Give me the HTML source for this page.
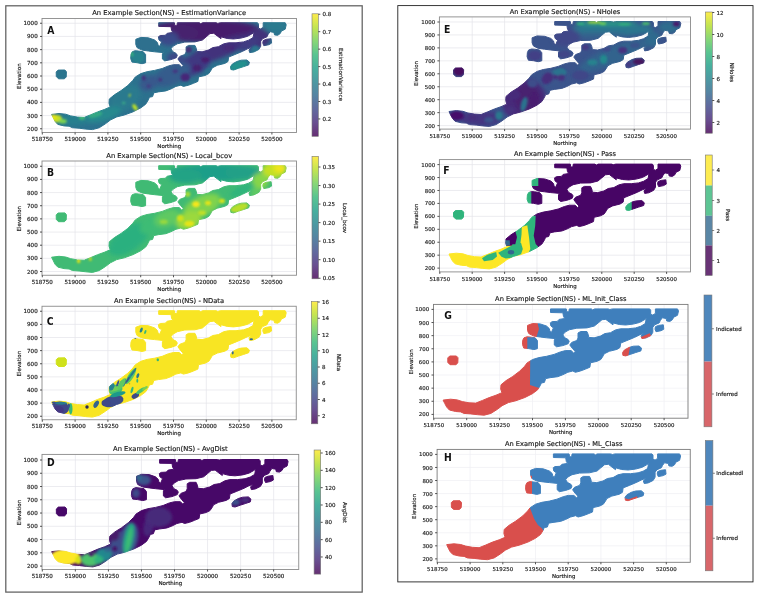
<!DOCTYPE html><html><head><meta charset="utf-8"><title>Example Section figure</title>
<style>html,body{margin:0;padding:0;background:#fff}svg{display:block;filter:blur(0.4px)}text{font-family:'DejaVu Sans','Liberation Sans',sans-serif;stroke:#262626;stroke-width:0.18px}</style></head><body>
<svg width="768" height="598" viewBox="0 0 768 598">
<rect width="768" height="598" fill="#fff"/>
<defs>
<linearGradient id="vir" x1="0" y1="1" x2="0" y2="0">
<stop offset="0.000" stop-color="#440154"/>
<stop offset="0.111" stop-color="#482878"/>
<stop offset="0.222" stop-color="#3e4989"/>
<stop offset="0.333" stop-color="#31688e"/>
<stop offset="0.444" stop-color="#26828e"/>
<stop offset="0.556" stop-color="#1f9e89"/>
<stop offset="0.667" stop-color="#35b779"/>
<stop offset="0.778" stop-color="#6ece58"/>
<stop offset="0.889" stop-color="#b5de2b"/>
<stop offset="1.000" stop-color="#fde725"/>
</linearGradient>
<filter id="bl4" x="-20%" y="-20%" width="140%" height="140%"><feGaussianBlur stdDeviation="0.40"/></filter>
<filter id="bl5" x="-20%" y="-20%" width="140%" height="140%"><feGaussianBlur stdDeviation="0.50"/></filter>
<filter id="bl6" x="-20%" y="-20%" width="140%" height="140%"><feGaussianBlur stdDeviation="0.60"/></filter>
<filter id="bl8" x="-20%" y="-20%" width="140%" height="140%"><feGaussianBlur stdDeviation="0.80"/></filter>
<filter id="bl9" x="-20%" y="-20%" width="140%" height="140%"><feGaussianBlur stdDeviation="0.90"/></filter>
<filter id="bl10" x="-20%" y="-20%" width="140%" height="140%"><feGaussianBlur stdDeviation="1.00"/></filter>
<filter id="bl12" x="-20%" y="-20%" width="140%" height="140%"><feGaussianBlur stdDeviation="1.20"/></filter>
<filter id="bl14" x="-20%" y="-20%" width="140%" height="140%"><feGaussianBlur stdDeviation="1.40"/></filter>
<filter id="bl15" x="-20%" y="-20%" width="140%" height="140%"><feGaussianBlur stdDeviation="1.50"/></filter>
<filter id="bl16" x="-20%" y="-20%" width="140%" height="140%"><feGaussianBlur stdDeviation="1.60"/></filter>
<filter id="bl18" x="-20%" y="-20%" width="140%" height="140%"><feGaussianBlur stdDeviation="1.80"/></filter>
<filter id="bl20" x="-20%" y="-20%" width="140%" height="140%"><feGaussianBlur stdDeviation="2.00"/></filter>
<filter id="bl22" x="-20%" y="-20%" width="140%" height="140%"><feGaussianBlur stdDeviation="2.20"/></filter>
</defs>
<rect x="5.8" y="5.8" width="356.4" height="586.3" fill="#fff" stroke="#606060" stroke-width="1.25"/>
<rect x="397.8" y="5.6" width="355.2" height="576.3" fill="#fff" stroke="#222" stroke-width="0.9"/>
<g>
<path d="M75.10 18.50V132.50M107.90 18.50V132.50M140.70 18.50V132.50M173.50 18.50V132.50M206.30 18.50V132.50M239.10 18.50V132.50M271.90 18.50V132.50M42.00 128.77H296.50M42.00 115.58H296.50M42.00 102.39H296.50M42.00 89.20H296.50M42.00 76.01H296.50M42.00 62.82H296.50M42.00 49.63H296.50M42.00 36.44H296.50M42.00 23.25H296.50" stroke="#e4e4ea" stroke-width="0.7" fill="none"/>
<mask id="clA" maskUnits="userSpaceOnUse" x="42.0" y="18.5" width="254.5" height="114.0">
<g fill="#fff" stroke="#fff" stroke-width="1.00" stroke-linejoin="round">
<path d="M51.6 114.4L59.0 113.5L65.7 114.2L70.7 115.9L77.4 117.1L84.2 117.4L90.9 114.7L97.6 111.9L104.3 109.5L110.2 107.0L109.0 103.2L109.3 99.0L114.4 94.8L121.1 90.6L127.8 85.5L132.8 80.4L135.3 77.0L140.8 73.6L147.1 71.7L154.6 70.4L162.2 68.5L168.5 65.9L173.5 64.7L179.2 64.7L181.7 67.0L183.3 65.7L180.4 62.4L177.9 59.0L179.8 56.4L184.8 54.5L186.1 52.0L186.1 46.9L188.6 45.4L194.9 45.4L196.2 48.2L196.8 51.4L202.1 51.8L208.4 50.1L212.8 47.6L218.4 46.7L223.5 43.9L228.5 42.8L236.0 42.8L243.6 41.9L248.6 40.2L253.1 37.6L260.7 41.2L260.7 46.3L258.8 49.5L253.8 52.0L249.7 52.6L249.0 50.1L251.2 47.6L247.5 48.8L242.4 51.4L234.9 54.5L228.6 57.1L228.0 61.5L224.8 63.4L217.3 65.3L212.2 67.9L211.3 69.8L208.8 73.6L205.0 75.5L198.5 76.9L197.9 81.4L193.5 83.3L188.5 85.2L183.4 86.4L180.9 85.2L175.9 86.4L170.8 89.0L165.8 90.9L158.3 91.9L153.8 92.8L152.6 96.6L149.4 97.2L148.4 99.8L145.7 104.2L140.6 108.0L133.1 111.8L124.3 115.0L116.7 116.9L110.4 120.0L105.4 123.8L99.3 127.7L92.5 129.6L85.8 129.1L79.1 128.2L72.4 127.7L69.1 126.2L64.0 125.9L57.8 124.4L55.1 121.5L53.3 117.9Z"/>
<path d="M158.7 22.7L174.4 22.7L174.9 25.7L176.9 25.7L177.4 22.7L199.4 22.7L200.7 23.8L202.6 22.7L216.2 22.7L217.8 23.4L220.3 22.7L257.5 22.7L258.5 24.1L258.5 28.2L260.7 28.9L263.2 27.3L263.2 22.7L285.2 22.7L286.2 24.8L285.2 29.2L281.4 31.1L280.2 33.6L277.7 35.3L274.5 34.9L273.9 32.4L270.1 31.7L268.2 34.3L267.0 36.8L262.6 38.7L260.7 41.2L257.5 43.1L253.1 37.8L254.0 32.5L251.7 34.0L247.3 36.4L241.0 38.1L233.5 39.0L227.2 38.5L220.9 36.8L221.0 38.7L217.6 36.2L213.8 33.3L210.0 33.6L206.2 36.8L202.5 40.0L194.9 41.9L184.8 42.1L177.3 43.8L172.9 46.3L171.0 48.8L172.9 51.8L176.0 53.3L177.3 55.2L176.3 57.7L171.0 59.6L164.7 60.9L162.4 59.0L162.4 53.9L163.4 52.6L154.6 51.8L148.3 51.0L142.1 50.1L137.0 47.6L135.8 44.4L135.8 39.3L140.8 37.4L148.3 37.8L154.6 40.0L157.4 42.5L158.2 45.4L159.7 46.3L161.6 41.9L159.0 40.0L158.4 36.8L160.3 35.5L165.3 35.3L167.2 33.3L172.9 32.4L171.6 30.5L171.0 26.7L158.7 26.4Z"/>
<path d="M263.2 40.6L266.3 39.3L271.1 38.7L271.6 43.1L268.9 44.7L263.8 45.7L262.8 43.1Z"/>
<path d="M230.5 66.6L232.4 64.0L236.8 61.5L241.2 60.2L246.8 60.0L249.4 62.1L248.7 64.9L243.7 66.6L238.7 68.2L233.6 70.0L230.9 69.5Z"/>
<path d="M132.2 51.8L135.1 50.7L138.3 51.0L143.3 51.8L145.6 54.5L145.6 62.8L142.1 63.7L137.0 62.7L132.0 62.1L130.7 58.6L131.0 54.3Z"/>
<path d="M56.2 72.0L58.1 70.1L64.9 70.0L66.4 71.8L66.2 77.0L64.4 78.8L58.5 78.8L56.3 76.5Z"/>
</g></mask>
<g mask="url(#clA)">
<rect x="42.0" y="18.5" width="254.5" height="114.0" fill="#2c718e"/>
<g filter="url(#bl22)">
<ellipse cx="205.3" cy="30.7" rx="56.7" ry="11.3" fill="#461c6b"/>
<ellipse cx="182.0" cy="33.0" rx="16.7" ry="8.3" fill="#46206e"/>
<ellipse cx="235.3" cy="31.3" rx="23.3" ry="8.3" fill="#471c6c"/>
<ellipse cx="168.7" cy="38.7" rx="10.0" ry="7.3" fill="#3b4a89"/>
<ellipse cx="258.7" cy="38.0" rx="11.7" ry="10.0" fill="#423079"/>
<ellipse cx="275.3" cy="26.3" rx="11.7" ry="6.0" fill="#2a7a8f"/>
<ellipse cx="218.7" cy="49.7" rx="36.7" ry="8.7" fill="#42307c" transform="rotate(-22 218.7 49.7)"/>
<ellipse cx="193.7" cy="64.7" rx="18.3" ry="10.0" fill="#413781" transform="rotate(-25 193.7 64.7)"/>
<ellipse cx="248.7" cy="44.0" rx="11.7" ry="6.0" fill="#3f3a82" transform="rotate(-25 248.7 44.0)"/>
<ellipse cx="175.3" cy="58.0" rx="8.3" ry="6.0" fill="#3e4788"/>
<ellipse cx="172.0" cy="74.7" rx="20.0" ry="10.0" fill="#365c8c" transform="rotate(-25 172.0 74.7)"/>
<ellipse cx="148.7" cy="83.0" rx="10.0" ry="7.3" fill="#38588c" transform="rotate(-30 148.7 83.0)"/>
<ellipse cx="125.3" cy="98.0" rx="16.7" ry="11.7" fill="#2a7a8e" transform="rotate(-35 125.3 98.0)"/>
<ellipse cx="102.0" cy="114.7" rx="20.0" ry="6.7" fill="#25898e" transform="rotate(-15 102.0 114.7)"/>
<ellipse cx="72.0" cy="119.7" rx="16.7" ry="6.0" fill="#277f8e"/>
</g>
<g filter="url(#bl9)">
<ellipse cx="57.0" cy="118.7" rx="5.0" ry="3.7" fill="#c8e020"/>
<ellipse cx="53.7" cy="116.7" rx="3.0" ry="2.3" fill="#e2e418"/>
<ellipse cx="62.7" cy="121.3" rx="4.0" ry="2.3" fill="#7ad151"/>
<ellipse cx="135.0" cy="107.3" rx="2.0" ry="3.7" fill="#b8de29" transform="rotate(-35 135.0 107.3)"/>
<ellipse cx="95.3" cy="114.7" rx="7.3" ry="2.7" fill="#35a983" transform="rotate(-15 95.3 114.7)"/>
<ellipse cx="82.0" cy="118.0" rx="3.3" ry="1.7" fill="#3fbc73"/>
<ellipse cx="129.7" cy="95.3" rx="0.8" ry="1.7" fill="#c0df25" transform="rotate(20 129.7 95.3)"/>
<ellipse cx="123.7" cy="103.0" rx="2.0" ry="1.3" fill="#3aa786"/>
<ellipse cx="238.7" cy="65.3" rx="9.3" ry="4.0" fill="#21908d" transform="rotate(-18 238.7 65.3)"/>
<ellipse cx="138.0" cy="57.3" rx="6.7" ry="6.0" fill="#26828e"/>
<ellipse cx="132.0" cy="54.0" rx="1.3" ry="2.7" fill="#35b779"/>
<ellipse cx="147.0" cy="44.0" rx="11.7" ry="6.7" fill="#2d6f8e"/>
<ellipse cx="61.3" cy="74.7" rx="6.0" ry="5.0" fill="#2b748e"/>
<ellipse cx="143.7" cy="78.0" rx="2.0" ry="2.7" fill="#452f7c"/>
<ellipse cx="148.7" cy="86.3" rx="1.7" ry="2.0" fill="#443a83"/>
<ellipse cx="160.3" cy="79.7" rx="2.0" ry="1.7" fill="#46307e"/>
<ellipse cx="185.3" cy="77.3" rx="4.7" ry="4.0" fill="#472878"/>
<ellipse cx="197.0" cy="68.0" rx="4.0" ry="3.3" fill="#46226f"/>
<ellipse cx="205.3" cy="59.7" rx="4.0" ry="2.7" fill="#471f6d"/>
<ellipse cx="175.3" cy="71.3" rx="2.7" ry="2.0" fill="#443882"/>
<ellipse cx="188.7" cy="49.7" rx="3.3" ry="3.3" fill="#453179"/>
<ellipse cx="228.7" cy="48.0" rx="4.7" ry="2.7" fill="#462a77"/>
<ellipse cx="208.7" cy="71.3" rx="3.3" ry="2.7" fill="#2c6f8e"/>
<ellipse cx="255.3" cy="49.7" rx="4.0" ry="4.0" fill="#2b748e"/>
</g>
</g>
<rect x="42.00" y="18.50" width="254.50" height="114.00" fill="none" stroke="#8a8a8a" stroke-width="0.9"/>
<path d="M42.30 132.50v2M75.10 132.50v2M107.90 132.50v2M140.70 132.50v2M173.50 132.50v2M206.30 132.50v2M239.10 132.50v2M271.90 132.50v2M42.00 128.77h-2M42.00 115.58h-2M42.00 102.39h-2M42.00 89.20h-2M42.00 76.01h-2M42.00 62.82h-2M42.00 49.63h-2M42.00 36.44h-2M42.00 23.25h-2" stroke="#333" stroke-width="0.85" fill="none"/>
<g font-size="5.55" fill="#262626">
<text x="42.30" y="140.80" text-anchor="middle">518750</text>
<text x="75.10" y="140.80" text-anchor="middle">519000</text>
<text x="107.90" y="140.80" text-anchor="middle">519250</text>
<text x="140.70" y="140.80" text-anchor="middle">519500</text>
<text x="173.50" y="140.80" text-anchor="middle">519750</text>
<text x="206.30" y="140.80" text-anchor="middle">520000</text>
<text x="239.10" y="140.80" text-anchor="middle">520250</text>
<text x="271.90" y="140.80" text-anchor="middle">520500</text>
<text x="37.70" y="130.82" text-anchor="end">200</text>
<text x="37.70" y="117.63" text-anchor="end">300</text>
<text x="37.70" y="104.44" text-anchor="end">400</text>
<text x="37.70" y="91.25" text-anchor="end">500</text>
<text x="37.70" y="78.06" text-anchor="end">600</text>
<text x="37.70" y="64.87" text-anchor="end">700</text>
<text x="37.70" y="51.68" text-anchor="end">800</text>
<text x="37.70" y="38.49" text-anchor="end">900</text>
<text x="37.70" y="25.30" text-anchor="end">1000</text>
</g>
<text x="169.25" y="147.90" text-anchor="middle" font-size="5.50" fill="#262626">Northing</text>
<text transform="translate(21.00 76.10) rotate(-90)" text-anchor="middle" font-size="5.50" fill="#262626">Elevation</text>
<text x="169.25" y="15.10" text-anchor="middle" font-size="6.75" fill="#222">An Example Section(NS) - EstimationVariance</text>
<text x="47.20" y="33.50" font-weight="bold" font-size="10.3" fill="#111" style="font-family:'DejaVu Sans Condensed','DejaVu Sans',sans-serif;font-stretch:condensed;stroke:none">A</text>
</g>
<g>
<path d="M75.10 161.00V275.25M107.90 161.00V275.25M140.70 161.00V275.25M173.50 161.00V275.25M206.30 161.00V275.25M239.10 161.00V275.25M271.90 161.00V275.25M42.00 271.53H296.50M42.00 258.37H296.50M42.00 245.21H296.50M42.00 232.05H296.50M42.00 218.89H296.50M42.00 205.73H296.50M42.00 192.57H296.50M42.00 179.41H296.50M42.00 166.25H296.50" stroke="#e4e4ea" stroke-width="0.7" fill="none"/>
<mask id="clB" maskUnits="userSpaceOnUse" x="42.0" y="161.0" width="254.5" height="114.2">
<g fill="#fff" stroke="#fff" stroke-width="1.00" stroke-linejoin="round">
<path d="M51.6 257.2L59.0 256.3L65.7 257.0L70.7 258.7L77.4 259.9L84.2 260.2L90.9 257.5L97.6 254.7L104.3 252.3L110.2 249.8L109.0 246.1L109.3 241.8L114.4 237.6L121.1 233.4L127.8 228.4L132.8 223.3L135.3 219.9L140.8 216.4L147.1 214.5L154.6 213.3L162.2 211.4L168.5 208.9L173.5 207.6L179.2 207.6L181.7 209.9L183.3 208.6L180.4 205.3L177.9 201.9L179.8 199.4L184.8 197.5L186.1 194.9L186.1 189.9L188.6 188.4L194.9 188.4L196.2 191.2L196.8 194.3L202.1 194.7L208.4 193.0L212.8 190.5L218.4 189.6L223.5 186.9L228.5 185.7L236.0 185.7L243.6 184.8L248.6 183.2L253.1 180.5L260.7 184.2L260.7 189.3L258.8 192.4L253.8 194.9L249.7 195.6L249.0 193.0L251.2 190.5L247.5 191.8L242.4 194.3L234.9 197.5L228.6 200.0L228.0 204.4L224.8 206.3L217.3 208.2L212.2 210.7L211.3 212.6L208.8 216.4L205.0 218.3L198.5 219.8L197.9 224.2L193.5 226.1L188.5 228.0L183.4 229.3L180.9 228.0L175.9 229.3L170.8 231.8L165.8 233.7L158.3 234.7L153.8 235.6L152.6 239.4L149.4 240.1L148.4 242.6L145.7 247.0L140.6 250.8L133.1 254.6L124.3 257.8L116.7 259.6L110.4 262.8L105.4 266.6L99.3 270.5L92.5 272.4L85.8 271.8L79.1 271.0L72.4 270.5L69.1 269.0L64.0 268.6L57.8 267.1L55.1 264.3L53.3 260.7Z"/>
<path d="M158.7 165.7L174.4 165.7L174.9 168.6L176.9 168.6L177.4 165.7L199.4 165.7L200.7 166.8L202.6 165.7L216.2 165.7L217.8 166.4L220.3 165.7L257.5 165.7L258.5 167.1L258.5 171.2L260.7 171.9L263.2 170.3L263.2 165.7L285.2 165.7L286.2 167.8L285.2 172.2L281.4 174.1L280.2 176.6L277.7 178.3L274.5 177.9L273.9 175.3L270.1 174.7L268.2 177.2L267.0 179.8L262.6 181.7L260.7 184.2L257.5 186.1L253.1 180.8L254.0 175.5L251.7 177.0L247.3 179.4L241.0 181.0L233.5 181.9L227.2 181.4L220.9 179.8L221.0 181.7L217.6 179.1L213.8 176.2L210.0 176.6L206.2 179.8L202.5 182.9L194.9 184.8L184.8 185.1L177.3 186.7L172.9 189.3L171.0 191.8L172.9 194.7L176.0 196.2L177.3 198.1L176.3 200.6L171.0 202.5L164.7 203.8L162.4 201.9L162.4 196.8L163.4 195.6L154.6 194.7L148.3 193.9L142.1 193.0L137.0 190.5L135.8 187.4L135.8 182.3L140.8 180.4L148.3 180.8L154.6 182.9L157.4 185.5L158.2 188.4L159.7 189.3L161.6 184.8L159.0 182.9L158.4 179.8L160.3 178.5L165.3 178.3L167.2 176.2L172.9 175.3L171.6 173.5L171.0 169.7L158.7 169.4Z"/>
<path d="M263.2 183.6L266.3 182.3L271.1 181.7L271.6 186.1L268.9 187.6L263.8 188.6L262.8 186.1Z"/>
<path d="M230.5 209.5L232.4 207.0L236.8 204.4L241.2 203.2L246.8 202.9L249.4 205.1L248.7 207.8L243.7 209.5L238.7 211.1L233.6 212.9L230.9 212.4Z"/>
<path d="M132.2 194.7L135.1 193.7L138.3 193.9L143.3 194.7L145.6 197.5L145.6 205.7L142.1 206.6L137.0 205.6L132.0 205.1L130.7 201.5L131.0 197.2Z"/>
<path d="M56.2 214.9L58.1 213.0L64.9 212.9L66.4 214.7L66.2 219.9L64.4 221.7L58.5 221.7L56.3 219.4Z"/>
</g></mask>
<g mask="url(#clB)">
<rect x="42.0" y="161.0" width="254.5" height="114.2" fill="#40ba74"/>
<g filter="url(#bl22)">
<ellipse cx="215.3" cy="172.7" rx="46.7" ry="8.7" fill="#1f9e89"/>
<ellipse cx="185.3" cy="176.0" rx="16.7" ry="7.3" fill="#22a385"/>
<ellipse cx="242.0" cy="172.7" rx="16.7" ry="7.3" fill="#21a087"/>
<ellipse cx="273.7" cy="170.3" rx="12.0" ry="8.3" fill="#c5e021"/>
<ellipse cx="280.3" cy="167.7" rx="6.7" ry="4.7" fill="#f1e51d"/>
<ellipse cx="260.3" cy="181.0" rx="8.3" ry="8.3" fill="#86d549"/>
<ellipse cx="242.0" cy="190.3" rx="13.3" ry="4.7" fill="#2fb47c" transform="rotate(-25 242.0 190.3)"/>
<ellipse cx="202.0" cy="206.0" rx="20.0" ry="10.0" fill="#7fd34e" transform="rotate(-25 202.0 206.0)"/>
<ellipse cx="188.7" cy="220.3" rx="13.3" ry="8.3" fill="#9bd93c" transform="rotate(-20 188.7 220.3)"/>
<ellipse cx="128.7" cy="239.3" rx="23.3" ry="11.7" fill="#2ab07f" transform="rotate(-35 128.7 239.3)"/>
<ellipse cx="152.0" cy="224.3" rx="13.3" ry="8.3" fill="#3dbc74" transform="rotate(-30 152.0 224.3)"/>
<ellipse cx="167.0" cy="218.3" rx="13.3" ry="8.0" fill="#5ec962" transform="rotate(-20 167.0 218.3)"/>
<ellipse cx="255.3" cy="192.7" rx="5.0" ry="5.0" fill="#5ec962"/>
</g>
<g filter="url(#bl10)">
<ellipse cx="196.0" cy="204.3" rx="3.7" ry="3.0" fill="#f4e61e"/>
<ellipse cx="208.0" cy="203.0" rx="3.0" ry="2.3" fill="#e2e418"/>
<ellipse cx="222.0" cy="201.0" rx="3.0" ry="2.3" fill="#d2e21b"/>
<ellipse cx="189.3" cy="223.7" rx="5.0" ry="3.0" fill="#e5e419"/>
<ellipse cx="180.3" cy="218.3" rx="3.3" ry="3.3" fill="#cde11d"/>
<ellipse cx="163.7" cy="221.7" rx="4.0" ry="2.3" fill="#95d840"/>
<ellipse cx="239.3" cy="207.7" rx="9.3" ry="4.0" fill="#b8de29" transform="rotate(-18 239.3 207.7)"/>
<ellipse cx="78.7" cy="261.0" rx="1.7" ry="2.3" fill="#e5e419"/>
<ellipse cx="90.3" cy="259.0" rx="1.3" ry="2.0" fill="#d8e219"/>
<ellipse cx="202.0" cy="212.7" rx="4.0" ry="2.3" fill="#c0df25"/>
<ellipse cx="187.7" cy="194.3" rx="2.7" ry="2.7" fill="#a0da39"/>
</g>
</g>
<rect x="42.00" y="161.00" width="254.50" height="114.25" fill="none" stroke="#8a8a8a" stroke-width="0.9"/>
<path d="M42.30 275.25v2M75.10 275.25v2M107.90 275.25v2M140.70 275.25v2M173.50 275.25v2M206.30 275.25v2M239.10 275.25v2M271.90 275.25v2M42.00 271.53h-2M42.00 258.37h-2M42.00 245.21h-2M42.00 232.05h-2M42.00 218.89h-2M42.00 205.73h-2M42.00 192.57h-2M42.00 179.41h-2M42.00 166.25h-2" stroke="#333" stroke-width="0.85" fill="none"/>
<g font-size="5.55" fill="#262626">
<text x="42.30" y="283.55" text-anchor="middle">518750</text>
<text x="75.10" y="283.55" text-anchor="middle">519000</text>
<text x="107.90" y="283.55" text-anchor="middle">519250</text>
<text x="140.70" y="283.55" text-anchor="middle">519500</text>
<text x="173.50" y="283.55" text-anchor="middle">519750</text>
<text x="206.30" y="283.55" text-anchor="middle">520000</text>
<text x="239.10" y="283.55" text-anchor="middle">520250</text>
<text x="271.90" y="283.55" text-anchor="middle">520500</text>
<text x="37.70" y="273.58" text-anchor="end">200</text>
<text x="37.70" y="260.42" text-anchor="end">300</text>
<text x="37.70" y="247.26" text-anchor="end">400</text>
<text x="37.70" y="234.10" text-anchor="end">500</text>
<text x="37.70" y="220.94" text-anchor="end">600</text>
<text x="37.70" y="207.78" text-anchor="end">700</text>
<text x="37.70" y="194.62" text-anchor="end">800</text>
<text x="37.70" y="181.46" text-anchor="end">900</text>
<text x="37.70" y="168.30" text-anchor="end">1000</text>
</g>
<text x="169.25" y="290.65" text-anchor="middle" font-size="5.50" fill="#262626">Northing</text>
<text transform="translate(21.00 218.72) rotate(-90)" text-anchor="middle" font-size="5.50" fill="#262626">Elevation</text>
<text x="169.25" y="157.60" text-anchor="middle" font-size="6.75" fill="#222">An Example Section(NS) - Local_bcov</text>
<text x="47.00" y="175.60" font-weight="bold" font-size="10.3" fill="#111" style="font-family:'DejaVu Sans Condensed','DejaVu Sans',sans-serif;font-stretch:condensed;stroke:none">B</text>
</g>
<g>
<path d="M75.10 306.25V419.75M107.90 306.25V419.75M140.70 306.25V419.75M173.50 306.25V419.75M206.30 306.25V419.75M239.10 306.25V419.75M271.90 306.25V419.75M42.00 416.25H296.25M42.00 403.12H296.25M42.00 390.00H296.25M42.00 376.88H296.25M42.00 363.75H296.25M42.00 350.62H296.25M42.00 337.50H296.25M42.00 324.38H296.25M42.00 311.25H296.25" stroke="#e4e4ea" stroke-width="0.7" fill="none"/>
<mask id="clC" maskUnits="userSpaceOnUse" x="42.0" y="306.2" width="254.2" height="113.5">
<g fill="#fff" stroke="#fff" stroke-width="1.00" stroke-linejoin="round">
<path d="M51.6 401.9L59.0 401.1L65.7 401.8L70.7 403.5L77.4 404.6L84.2 405.0L90.9 402.3L97.6 399.4L104.3 397.1L110.2 394.5L109.0 390.8L109.3 386.6L114.4 382.4L121.1 378.2L127.8 373.2L132.8 368.1L135.3 364.8L140.8 361.3L147.1 359.4L154.6 358.2L162.2 356.3L168.5 353.7L173.5 352.5L179.2 352.5L181.7 354.7L183.3 353.5L180.4 350.2L177.9 346.8L179.8 344.3L184.8 342.4L186.1 339.9L186.1 334.8L188.6 333.3L194.9 333.3L196.2 336.1L196.8 339.2L202.1 339.6L208.4 338.0L212.8 335.5L218.4 334.6L223.5 331.8L228.5 330.7L236.0 330.7L243.6 329.8L248.6 328.1L253.1 325.5L260.7 329.2L260.7 334.2L258.8 337.3L253.8 339.9L249.7 340.5L249.0 338.0L251.2 335.5L247.5 336.7L242.4 339.2L234.9 342.4L228.6 344.9L228.0 349.3L224.8 351.2L217.3 353.1L212.2 355.6L211.3 357.5L208.8 361.3L205.0 363.2L198.5 364.7L197.9 369.1L193.5 371.0L188.5 372.9L183.4 374.1L180.9 372.9L175.9 374.1L170.8 376.7L165.8 378.6L158.3 379.6L153.8 380.4L152.6 384.2L149.4 384.9L148.4 387.4L145.7 391.8L140.6 395.6L133.1 399.4L124.3 402.5L116.7 404.4L110.4 407.6L105.4 411.3L99.3 415.2L92.5 417.1L85.8 416.6L79.1 415.7L72.4 415.2L69.1 413.7L64.0 413.4L57.8 411.9L55.1 409.0L53.3 405.5Z"/>
<path d="M158.7 310.7L174.4 310.7L174.9 313.6L176.9 313.6L177.4 310.7L199.4 310.7L200.7 311.7L202.6 310.7L216.2 310.7L217.8 311.4L220.3 310.7L257.5 310.7L258.5 312.1L258.5 316.2L260.7 316.9L263.2 315.3L263.2 310.7L285.2 310.7L286.2 312.8L285.2 317.2L281.4 319.1L280.2 321.6L277.7 323.2L274.5 322.8L273.9 320.3L270.1 319.7L268.2 322.2L267.0 324.7L262.6 326.6L260.7 329.2L257.5 331.0L253.1 325.7L254.0 320.5L251.7 322.0L247.3 324.4L241.0 326.0L233.5 326.9L227.2 326.4L220.9 324.7L221.0 326.6L217.6 324.1L213.8 321.2L210.0 321.6L206.2 324.7L202.5 327.9L194.9 329.8L184.8 330.0L177.3 331.7L172.9 334.2L171.0 336.7L172.9 339.6L176.0 341.1L177.3 343.0L176.3 345.5L171.0 347.4L164.7 348.7L162.4 346.8L162.4 341.8L163.4 340.5L154.6 339.6L148.3 338.9L142.1 338.0L137.0 335.5L135.8 332.3L135.8 327.3L140.8 325.4L148.3 325.7L154.6 327.9L157.4 330.4L158.2 333.3L159.7 334.2L161.6 329.8L159.0 327.9L158.4 324.7L160.3 323.5L165.3 323.2L167.2 321.2L172.9 320.3L171.6 318.4L171.0 314.6L158.7 314.4Z"/>
<path d="M263.2 328.5L266.3 327.3L271.1 326.6L271.6 331.0L268.9 332.6L263.8 333.6L262.8 331.0Z"/>
<path d="M230.5 354.4L232.4 351.8L236.8 349.3L241.2 348.1L246.8 347.8L249.4 350.0L248.7 352.7L243.7 354.4L238.7 356.0L233.6 357.8L230.9 357.3Z"/>
<path d="M132.2 339.6L135.1 338.6L138.3 338.9L143.3 339.6L145.6 342.4L145.6 350.6L142.1 351.5L137.0 350.5L132.0 350.0L130.7 346.4L131.0 342.1Z"/>
<path d="M56.2 359.7L58.1 357.9L64.9 357.8L66.4 359.6L66.2 364.8L64.4 366.5L58.5 366.5L56.3 364.3Z"/>
</g></mask>
<g mask="url(#clC)">
<rect x="42.0" y="306.2" width="254.2" height="113.5" fill="#f8e523"/>
<g filter="url(#bl6)">
<ellipse cx="61.7" cy="361.7" rx="6.7" ry="6.0" fill="#cfe11c"/>
<ellipse cx="59.5" cy="408.3" rx="9.7" ry="6.7" fill="#3f4788"/>
<ellipse cx="57.8" cy="410.0" rx="6.0" ry="4.0" fill="#443983"/>
<ellipse cx="61.2" cy="403.2" rx="6.3" ry="1.5" fill="#29798e"/>
<ellipse cx="70.7" cy="408.7" rx="1.8" ry="5.7" fill="#35b779"/>
<ellipse cx="68.7" cy="405.8" rx="1.3" ry="2.3" fill="#3b528b"/>
<ellipse cx="53.7" cy="402.5" rx="2.0" ry="1.0" fill="#3b528b"/>
<ellipse cx="87.0" cy="407.0" rx="1.7" ry="1.7" fill="#2a2a55"/>
<ellipse cx="96.2" cy="404.2" rx="2.2" ry="4.0" fill="#33638d" transform="rotate(30 96.2 404.2)"/>
<ellipse cx="112.8" cy="401.3" rx="11.0" ry="5.5" fill="#3e4c8a" transform="rotate(-15 112.8 401.3)"/>
<ellipse cx="106.2" cy="403.0" rx="4.7" ry="3.3" fill="#3f4788"/>
<ellipse cx="115.7" cy="389.7" rx="7.0" ry="5.0" fill="#44bf70" transform="rotate(-20 115.7 389.7)"/>
<ellipse cx="117.8" cy="394.2" rx="8.0" ry="2.2" fill="#1f998a" transform="rotate(-15 117.8 394.2)"/>
<ellipse cx="115.3" cy="388.7" rx="6.0" ry="2.3" fill="#6ece58" transform="rotate(-20 115.3 388.7)"/>
<ellipse cx="111.7" cy="386.7" rx="2.5" ry="4.0" fill="#26828e" transform="rotate(20 111.7 386.7)"/>
<ellipse cx="120.3" cy="385.0" rx="1.5" ry="4.7" fill="#35b779" transform="rotate(20 120.3 385.0)"/>
<ellipse cx="124.5" cy="382.5" rx="1.2" ry="4.3" fill="#26828e" transform="rotate(20 124.5 382.5)"/>
<ellipse cx="117.8" cy="383.3" rx="1.0" ry="3.3" fill="#3b528b" transform="rotate(20 117.8 383.3)"/>
<ellipse cx="130.8" cy="376.3" rx="2.7" ry="9.2" fill="#5ec962" transform="rotate(32 130.8 376.3)"/>
<ellipse cx="121.7" cy="384.2" rx="2.3" ry="6.7" fill="#5ec962" transform="rotate(30 121.7 384.2)"/>
<ellipse cx="130.0" cy="376.7" rx="1.2" ry="6.7" fill="#21918c" transform="rotate(32 130.0 376.7)"/>
<ellipse cx="133.7" cy="371.7" rx="1.0" ry="4.7" fill="#2a788e" transform="rotate(32 133.7 371.7)"/>
<ellipse cx="127.3" cy="380.3" rx="0.8" ry="4.0" fill="#3b528b" transform="rotate(32 127.3 380.3)"/>
<ellipse cx="137.8" cy="375.8" rx="1.3" ry="2.7" fill="#2a788e" transform="rotate(20 137.8 375.8)"/>
<ellipse cx="137.3" cy="380.8" rx="1.0" ry="2.0" fill="#35b779"/>
<ellipse cx="135.3" cy="395.8" rx="4.0" ry="2.5" fill="#3e4989" transform="rotate(-30 135.3 395.8)"/>
<ellipse cx="140.7" cy="390.8" rx="5.3" ry="1.8" fill="#4ac16d" transform="rotate(-35 140.7 390.8)"/>
<ellipse cx="145.0" cy="388.3" rx="3.3" ry="1.3" fill="#7ad151" transform="rotate(-35 145.0 388.3)"/>
<ellipse cx="132.0" cy="390.0" rx="1.2" ry="3.3" fill="#35b779" transform="rotate(15 132.0 390.0)"/>
<ellipse cx="157.8" cy="359.7" rx="1.2" ry="1.5" fill="#35b779"/>
<ellipse cx="129.5" cy="383.7" rx="0.8" ry="0.8" fill="#e8a020"/>
</g>
<g filter="url(#bl5)">
<ellipse cx="141.3" cy="330.0" rx="1.3" ry="2.7" fill="#26828e" transform="rotate(20 141.3 330.0)"/>
<ellipse cx="145.3" cy="332.0" rx="1.0" ry="2.0" fill="#35b779" transform="rotate(20 145.3 332.0)"/>
<ellipse cx="135.3" cy="337.7" rx="1.0" ry="1.3" fill="#31688e"/>
<ellipse cx="232.7" cy="352.7" rx="1.0" ry="1.7" fill="#31688e"/>
<ellipse cx="251.3" cy="339.3" rx="1.7" ry="1.0" fill="#31688e"/>
</g>
</g>
<rect x="42.00" y="306.25" width="254.25" height="113.50" fill="none" stroke="#8a8a8a" stroke-width="0.9"/>
<path d="M42.30 419.75v2M75.10 419.75v2M107.90 419.75v2M140.70 419.75v2M173.50 419.75v2M206.30 419.75v2M239.10 419.75v2M271.90 419.75v2M42.00 416.25h-2M42.00 403.12h-2M42.00 390.00h-2M42.00 376.88h-2M42.00 363.75h-2M42.00 350.62h-2M42.00 337.50h-2M42.00 324.38h-2M42.00 311.25h-2" stroke="#333" stroke-width="0.85" fill="none"/>
<g font-size="5.55" fill="#262626">
<text x="42.30" y="428.05" text-anchor="middle">518750</text>
<text x="75.10" y="428.05" text-anchor="middle">519000</text>
<text x="107.90" y="428.05" text-anchor="middle">519250</text>
<text x="140.70" y="428.05" text-anchor="middle">519500</text>
<text x="173.50" y="428.05" text-anchor="middle">519750</text>
<text x="206.30" y="428.05" text-anchor="middle">520000</text>
<text x="239.10" y="428.05" text-anchor="middle">520250</text>
<text x="271.90" y="428.05" text-anchor="middle">520500</text>
<text x="37.70" y="418.30" text-anchor="end">200</text>
<text x="37.70" y="405.18" text-anchor="end">300</text>
<text x="37.70" y="392.05" text-anchor="end">400</text>
<text x="37.70" y="378.93" text-anchor="end">500</text>
<text x="37.70" y="365.80" text-anchor="end">600</text>
<text x="37.70" y="352.68" text-anchor="end">700</text>
<text x="37.70" y="339.55" text-anchor="end">800</text>
<text x="37.70" y="326.43" text-anchor="end">900</text>
<text x="37.70" y="313.30" text-anchor="end">1000</text>
</g>
<text x="169.12" y="435.15" text-anchor="middle" font-size="5.50" fill="#262626">Northing</text>
<text transform="translate(21.00 363.60) rotate(-90)" text-anchor="middle" font-size="5.50" fill="#262626">Elevation</text>
<text x="169.12" y="302.85" text-anchor="middle" font-size="6.75" fill="#222">An Example Section(NS) - NData</text>
<text x="46.70" y="324.60" font-weight="bold" font-size="10.3" fill="#111" style="font-family:'DejaVu Sans Condensed','DejaVu Sans',sans-serif;font-stretch:condensed;stroke:none">C</text>
</g>
<g>
<path d="M75.35 454.40V569.50M108.40 454.40V569.50M141.45 454.40V569.50M174.50 454.40V569.50M207.55 454.40V569.50M240.60 454.40V569.50M273.65 454.40V569.50M42.00 566.08H298.75M42.00 552.82H298.75M42.00 539.56H298.75M42.00 526.30H298.75M42.00 513.04H298.75M42.00 499.78H298.75M42.00 486.52H298.75M42.00 473.26H298.75M42.00 460.00H298.75" stroke="#e4e4ea" stroke-width="0.7" fill="none"/>
<mask id="clD" maskUnits="userSpaceOnUse" x="42.0" y="454.4" width="256.8" height="115.1">
<g fill="#fff" stroke="#fff" stroke-width="1.00" stroke-linejoin="round">
<path d="M51.7 551.6L59.1 550.8L65.9 551.5L70.9 553.1L77.7 554.3L84.5 554.7L91.2 552.0L98.0 549.1L104.8 546.7L110.7 544.1L109.5 540.4L109.8 536.2L114.9 531.9L121.7 527.7L128.4 522.6L133.5 517.5L136.0 514.1L141.5 510.6L147.9 508.7L155.5 507.4L163.1 505.5L169.4 502.9L174.5 501.7L180.2 501.7L182.8 503.9L184.4 502.7L181.5 499.4L179.0 495.9L180.9 493.4L185.9 491.5L187.2 488.9L187.2 483.8L189.7 482.3L196.1 482.3L197.3 485.1L198.0 488.3L203.3 488.7L209.6 487.0L214.1 484.5L219.8 483.6L224.9 480.8L229.9 479.6L237.5 479.6L245.1 478.7L250.2 477.1L254.7 474.4L262.3 478.1L262.3 483.2L260.4 486.4L255.4 488.9L251.3 489.6L250.6 487.0L252.8 484.5L249.0 485.7L244.0 488.3L236.3 491.5L230.0 494.0L229.4 498.5L226.2 500.4L218.6 502.3L213.5 504.8L212.6 506.7L210.0 510.6L206.2 512.5L199.7 514.0L199.1 518.4L194.6 520.3L189.6 522.3L184.5 523.5L182.0 522.3L176.9 523.5L171.8 526.1L166.7 528.0L159.1 529.0L154.7 529.9L153.4 533.7L150.3 534.4L149.2 536.9L146.5 541.4L141.4 545.2L133.8 549.0L124.9 552.2L117.3 554.1L110.9 557.3L105.9 561.1L99.7 565.0L92.9 566.9L86.2 566.4L79.4 565.5L72.6 565.0L69.3 563.5L64.2 563.2L57.9 561.6L55.2 558.8L53.4 555.2Z"/>
<path d="M159.6 459.5L175.4 459.5L175.9 462.4L177.9 462.4L178.4 459.5L200.6 459.5L201.9 460.5L203.8 459.5L217.5 459.5L219.2 460.1L221.7 459.5L259.2 459.5L260.2 460.9L260.2 465.0L262.3 465.7L264.9 464.1L264.9 459.5L287.1 459.5L288.1 461.5L287.1 466.0L283.3 467.9L282.0 470.4L279.5 472.1L276.3 471.7L275.7 469.2L271.9 468.5L270.0 471.1L268.7 473.6L264.2 475.5L262.3 478.1L259.2 480.0L254.7 474.6L255.6 469.3L253.3 470.8L248.9 473.2L242.6 474.9L235.0 475.8L228.6 475.3L222.3 473.6L222.3 475.5L218.9 473.0L215.1 470.1L211.3 470.4L207.5 473.6L203.7 476.8L196.1 478.7L185.9 479.0L178.3 480.6L173.9 483.2L172.0 485.7L173.9 488.7L177.1 490.2L178.3 492.1L177.3 494.6L172.0 496.6L165.6 497.8L163.4 495.9L163.4 490.8L164.4 489.6L155.5 488.7L149.2 487.9L142.8 487.0L137.7 484.5L136.5 481.3L136.5 476.2L141.5 474.3L149.2 474.6L155.5 476.8L158.3 479.4L159.0 482.3L160.6 483.2L162.5 478.7L159.9 476.8L159.3 473.6L161.2 472.4L166.3 472.1L168.2 470.1L173.9 469.2L172.6 467.3L172.0 463.4L159.6 463.2Z"/>
<path d="M264.9 477.4L268.1 476.2L272.9 475.5L273.4 480.0L270.6 481.5L265.5 482.5L264.5 480.0Z"/>
<path d="M231.9 503.6L233.8 501.0L238.3 498.5L242.7 497.2L248.4 496.9L250.9 499.1L250.3 501.9L245.2 503.6L240.2 505.2L235.1 507.0L232.3 506.5Z"/>
<path d="M132.9 488.7L135.8 487.6L139.0 487.9L144.1 488.7L146.4 491.5L146.4 499.7L142.8 500.6L137.7 499.6L132.7 499.1L131.4 495.5L131.7 491.2Z"/>
<path d="M56.3 509.0L58.3 507.1L65.0 507.0L66.6 508.8L66.4 514.1L64.5 515.9L58.6 515.9L56.4 513.6Z"/>
</g></mask>
<g mask="url(#clD)">
<rect x="42.0" y="454.4" width="256.8" height="115.1" fill="#470868"/>
<g filter="url(#bl15)">
<ellipse cx="128.7" cy="538.8" rx="9.2" ry="16.7" fill="#3a548c" transform="rotate(12 128.7 538.8)"/>
<ellipse cx="117.8" cy="544.7" rx="7.5" ry="13.3" fill="#3d4d8a" transform="rotate(15 117.8 544.7)"/>
<ellipse cx="128.7" cy="538.8" rx="4.7" ry="15.8" fill="#23a784" transform="rotate(12 128.7 538.8)"/>
<ellipse cx="129.0" cy="539.7" rx="2.2" ry="12.5" fill="#3dbc74" transform="rotate(12 129.0 539.7)"/>
<ellipse cx="113.7" cy="534.7" rx="5.8" ry="6.3" fill="#461c6a"/>
<ellipse cx="103.7" cy="555.0" rx="8.3" ry="7.0" fill="#24878e"/>
<ellipse cx="90.3" cy="559.7" rx="10.0" ry="6.7" fill="#4cc26c"/>
<ellipse cx="98.7" cy="560.0" rx="4.7" ry="4.3" fill="#2fb47c"/>
<ellipse cx="107.3" cy="549.3" rx="3.0" ry="3.0" fill="#33638d"/>
<ellipse cx="148.7" cy="526.3" rx="5.0" ry="10.0" fill="#47287a" transform="rotate(12 148.7 526.3)"/>
</g>
<g filter="url(#bl9)">
<ellipse cx="65.3" cy="557.2" rx="14.7" ry="8.0" fill="#fde725"/>
<ellipse cx="78.3" cy="560.0" rx="3.0" ry="4.3" fill="#d8e219"/>
<ellipse cx="91.2" cy="554.3" rx="2.3" ry="2.0" fill="#46106a"/>
<ellipse cx="114.8" cy="548.8" rx="2.3" ry="2.3" fill="#460f63"/>
<ellipse cx="81.0" cy="557.7" rx="1.2" ry="1.7" fill="#35b779"/>
</g>
<g filter="url(#bl14)">
<ellipse cx="143.7" cy="480.0" rx="7.3" ry="5.3" fill="#3b528b"/>
<ellipse cx="138.7" cy="477.3" rx="3.3" ry="3.3" fill="#31688e"/>
<ellipse cx="136.0" cy="493.3" rx="4.0" ry="4.7" fill="#3e4989"/>
<ellipse cx="235.3" cy="502.3" rx="4.7" ry="3.3" fill="#3b528b"/>
<ellipse cx="245.3" cy="500.0" rx="4.0" ry="2.7" fill="#46327e"/>
<ellipse cx="158.7" cy="517.3" rx="13.3" ry="10.0" fill="#472a7a"/>
</g>
</g>
<rect x="42.00" y="454.40" width="256.75" height="115.10" fill="none" stroke="#8a8a8a" stroke-width="0.9"/>
<path d="M42.30 569.50v2M75.35 569.50v2M108.40 569.50v2M141.45 569.50v2M174.50 569.50v2M207.55 569.50v2M240.60 569.50v2M273.65 569.50v2M42.00 566.08h-2M42.00 552.82h-2M42.00 539.56h-2M42.00 526.30h-2M42.00 513.04h-2M42.00 499.78h-2M42.00 486.52h-2M42.00 473.26h-2M42.00 460.00h-2" stroke="#333" stroke-width="0.85" fill="none"/>
<g font-size="5.55" fill="#262626">
<text x="42.30" y="577.80" text-anchor="middle">518750</text>
<text x="75.35" y="577.80" text-anchor="middle">519000</text>
<text x="108.40" y="577.80" text-anchor="middle">519250</text>
<text x="141.45" y="577.80" text-anchor="middle">519500</text>
<text x="174.50" y="577.80" text-anchor="middle">519750</text>
<text x="207.55" y="577.80" text-anchor="middle">520000</text>
<text x="240.60" y="577.80" text-anchor="middle">520250</text>
<text x="273.65" y="577.80" text-anchor="middle">520500</text>
<text x="37.70" y="568.13" text-anchor="end">200</text>
<text x="37.70" y="554.87" text-anchor="end">300</text>
<text x="37.70" y="541.61" text-anchor="end">400</text>
<text x="37.70" y="528.35" text-anchor="end">500</text>
<text x="37.70" y="515.09" text-anchor="end">600</text>
<text x="37.70" y="501.83" text-anchor="end">700</text>
<text x="37.70" y="488.57" text-anchor="end">800</text>
<text x="37.70" y="475.31" text-anchor="end">900</text>
<text x="37.70" y="462.05" text-anchor="end">1000</text>
</g>
<text x="170.38" y="584.90" text-anchor="middle" font-size="5.50" fill="#262626">Northing</text>
<text transform="translate(21.00 512.55) rotate(-90)" text-anchor="middle" font-size="5.50" fill="#262626">Elevation</text>
<text x="170.38" y="451.00" text-anchor="middle" font-size="6.75" fill="#222">An Example Section(NS) - AvgDist</text>
<text x="47.00" y="466.20" font-weight="bold" font-size="10.3" fill="#111" style="font-family:'DejaVu Sans Condensed','DejaVu Sans',sans-serif;font-stretch:condensed;stroke:none">D</text>
</g>
<g>
<path d="M472.20 16.90V129.10M504.60 16.90V129.10M537.00 16.90V129.10M569.40 16.90V129.10M601.80 16.90V129.10M634.20 16.90V129.10M666.60 16.90V129.10M439.40 125.60H690.50M439.40 112.65H690.50M439.40 99.70H690.50M439.40 86.75H690.50M439.40 73.80H690.50M439.40 60.85H690.50M439.40 47.90H690.50M439.40 34.95H690.50M439.40 22.00H690.50" stroke="#e4e4ea" stroke-width="0.7" fill="none"/>
<mask id="clE" maskUnits="userSpaceOnUse" x="439.4" y="16.9" width="251.1" height="112.2">
<g fill="#fff" stroke="#fff" stroke-width="1.00" stroke-linejoin="round">
<path d="M449.0 111.5L456.3 110.6L462.9 111.3L467.9 113.0L474.5 114.1L481.1 114.5L487.8 111.8L494.4 109.0L501.0 106.7L506.8 104.2L505.7 100.5L506.0 96.4L511.0 92.2L517.6 88.1L524.2 83.1L529.2 78.1L531.7 74.8L537.1 71.4L543.3 69.5L550.8 68.3L558.2 66.4L564.4 63.9L569.4 62.7L575.0 62.7L577.5 64.9L579.1 63.7L576.3 60.4L573.8 57.1L575.6 54.6L580.6 52.7L581.8 50.2L581.8 45.3L584.3 43.8L590.5 43.8L591.8 46.5L592.4 49.6L597.6 50.0L603.9 48.4L608.2 45.9L613.8 45.0L618.8 42.3L623.7 41.2L631.2 41.2L638.6 40.3L643.6 38.7L648.1 36.1L655.5 39.7L655.5 44.6L653.7 47.7L648.7 50.2L644.7 50.9L644.0 48.4L646.2 45.9L642.5 47.1L637.5 49.6L630.0 52.7L623.8 55.2L623.2 59.6L620.1 61.4L612.6 63.3L607.7 65.8L606.7 67.7L604.2 71.4L600.5 73.3L594.1 74.7L593.5 79.1L589.1 80.9L584.2 82.8L579.2 84.0L576.7 82.8L571.7 84.0L566.8 86.5L561.8 88.4L554.3 89.4L550.0 90.3L548.7 94.0L545.6 94.6L544.6 97.1L541.9 101.5L536.9 105.2L529.5 108.9L520.8 112.0L513.3 113.9L507.1 117.0L502.1 120.8L496.1 124.6L489.4 126.4L482.8 125.9L476.2 125.1L469.5 124.6L466.2 123.1L461.3 122.8L455.1 121.3L452.5 118.4L450.6 115.0Z"/>
<path d="M554.7 21.5L570.3 21.5L570.8 24.4L572.8 24.4L573.3 21.5L595.0 21.5L596.3 22.5L598.1 21.5L611.6 21.5L613.2 22.1L615.7 21.5L652.4 21.5L653.4 22.9L653.4 26.8L655.5 27.6L658.0 26.0L658.0 21.5L679.8 21.5L680.8 23.5L679.8 27.8L676.0 29.7L674.8 32.2L672.3 33.8L669.2 33.4L668.6 31.0L664.8 30.3L663.0 32.8L661.7 35.3L657.4 37.2L655.5 39.7L652.4 41.5L648.1 36.3L648.9 31.1L646.7 32.6L642.3 34.9L636.1 36.6L628.7 37.4L622.4 36.9L616.2 35.3L616.3 37.2L612.9 34.7L609.2 31.8L605.5 32.2L601.7 35.3L598.0 38.4L590.5 40.3L580.6 40.5L573.1 42.2L568.8 44.6L566.9 47.1L568.8 50.0L571.9 51.5L573.1 53.3L572.1 55.8L566.9 57.7L560.7 58.9L558.5 57.1L558.5 52.1L559.5 50.9L550.8 50.0L544.6 49.2L538.3 48.4L533.4 45.9L532.1 42.8L532.1 37.8L537.1 35.9L544.6 36.3L550.8 38.4L553.5 40.9L554.2 43.8L555.7 44.6L557.6 40.3L555.1 38.4L554.5 35.3L556.4 34.1L561.3 33.8L563.2 31.8L568.8 31.0L567.5 29.1L566.9 25.4L554.7 25.1Z"/>
<path d="M658.0 39.0L661.1 37.8L665.8 37.2L666.3 41.5L663.6 43.0L658.6 44.0L657.6 41.5Z"/>
<path d="M625.7 64.5L627.5 62.1L631.9 59.6L636.2 58.3L641.8 58.1L644.3 60.2L643.7 62.9L638.7 64.5L633.8 66.2L628.8 67.9L626.1 67.4Z"/>
<path d="M528.6 50.0L531.5 49.0L534.6 49.2L539.6 50.0L541.8 52.7L541.8 60.8L538.3 61.7L533.4 60.7L528.4 60.2L527.1 56.7L527.4 52.5Z"/>
<path d="M453.5 69.8L455.4 68.0L462.1 67.9L463.7 69.7L463.4 74.8L461.6 76.6L455.8 76.6L453.6 74.3Z"/>
</g></mask>
<g mask="url(#clE)">
<rect x="439.4" y="16.9" width="251.1" height="112.2" fill="#3a538b"/>
<g filter="url(#bl20)">
<ellipse cx="524.0" cy="100.0" rx="22.5" ry="20.8" fill="#472a79"/>
<ellipse cx="527.3" cy="98.3" rx="12.5" ry="14.2" fill="#48216f"/>
<ellipse cx="480.7" cy="118.3" rx="20.8" ry="7.5" fill="#453580"/>
<ellipse cx="554.0" cy="78.3" rx="13.3" ry="10.0" fill="#3a548c"/>
</g>
<g filter="url(#bl12)">
<ellipse cx="456.5" cy="115.8" rx="7.5" ry="4.7" fill="#47106a"/>
<ellipse cx="459.0" cy="70.8" rx="6.0" ry="5.3" fill="#460b5e"/>
<ellipse cx="499.0" cy="115.8" rx="3.7" ry="4.3" fill="#2a788e"/>
<ellipse cx="489.0" cy="120.0" rx="5.0" ry="3.0" fill="#3b528b"/>
<ellipse cx="524.0" cy="104.2" rx="3.0" ry="7.5" fill="#2c728e" transform="rotate(15 524.0 104.2)"/>
<ellipse cx="514.0" cy="95.0" rx="6.7" ry="5.0" fill="#472a7a"/>
<ellipse cx="534.0" cy="100.0" rx="5.0" ry="6.7" fill="#481f70"/>
<ellipse cx="532.3" cy="83.3" rx="5.0" ry="4.2" fill="#3d4d8a"/>
<ellipse cx="545.7" cy="80.0" rx="4.2" ry="4.2" fill="#46307e"/>
<ellipse cx="560.7" cy="72.5" rx="5.0" ry="3.7" fill="#2a788e"/>
<ellipse cx="555.7" cy="76.7" rx="3.0" ry="2.3" fill="#46327e"/>
<ellipse cx="510.7" cy="110.0" rx="5.0" ry="3.7" fill="#46307e"/>
<ellipse cx="473.2" cy="117.5" rx="3.0" ry="2.3" fill="#472d7b"/>
<ellipse cx="534.8" cy="55.8" rx="6.7" ry="5.0" fill="#424086"/>
</g>
<g filter="url(#bl20)">
<ellipse cx="612.7" cy="29.1" rx="40.4" ry="7.1" fill="#2a768e"/>
<ellipse cx="606.6" cy="23.1" rx="30.3" ry="1.6" fill="#28ae80"/>
<ellipse cx="600.5" cy="36.2" rx="28.3" ry="3.6" fill="#34618d"/>
<ellipse cx="566.2" cy="37.2" rx="14.1" ry="9.1" fill="#404688"/>
<ellipse cx="614.7" cy="55.3" rx="38.3" ry="9.1" fill="#33638d" transform="rotate(-22 614.7 55.3)"/>
<ellipse cx="669.2" cy="27.1" rx="11.1" ry="6.1" fill="#2e6d8e"/>
<ellipse cx="653.0" cy="39.2" rx="8.1" ry="8.1" fill="#2f6b8e"/>
</g>
<g filter="url(#bl12)">
<ellipse cx="594.5" cy="22.4" rx="7.1" ry="1.2" fill="#a5db36"/>
<ellipse cx="603.0" cy="23.7" rx="3.2" ry="1.4" fill="#6ece58"/>
<ellipse cx="646.0" cy="23.7" rx="4.0" ry="1.4" fill="#4ac16d"/>
<ellipse cx="624.8" cy="24.3" rx="6.1" ry="1.0" fill="#35b779"/>
<ellipse cx="580.4" cy="23.7" rx="4.0" ry="1.2" fill="#2fb47c"/>
<ellipse cx="676.2" cy="24.1" rx="3.2" ry="2.4" fill="#48186a"/>
<ellipse cx="603.6" cy="59.4" rx="3.6" ry="4.4" fill="#23898e"/>
<ellipse cx="592.5" cy="62.4" rx="5.0" ry="2.8" fill="#26828e"/>
<ellipse cx="622.7" cy="50.3" rx="4.4" ry="3.2" fill="#46337f"/>
<ellipse cx="585.4" cy="47.3" rx="3.6" ry="2.8" fill="#443a83"/>
<ellipse cx="606.6" cy="49.3" rx="4.0" ry="2.4" fill="#3e4989"/>
<ellipse cx="634.9" cy="45.3" rx="5.0" ry="2.8" fill="#3b528b"/>
<ellipse cx="638.9" cy="61.8" rx="6.1" ry="3.2" fill="#46185f"/>
<ellipse cx="628.8" cy="64.4" rx="3.2" ry="2.8" fill="#443a83"/>
<ellipse cx="548.1" cy="77.5" rx="5.0" ry="5.0" fill="#472d7b"/>
<ellipse cx="561.2" cy="77.5" rx="3.6" ry="3.2" fill="#46307e"/>
<ellipse cx="559.2" cy="71.9" rx="7.1" ry="2.8" fill="#2c728e"/>
<ellipse cx="580.4" cy="75.5" rx="8.1" ry="5.0" fill="#404688"/>
<ellipse cx="661.1" cy="41.2" rx="3.6" ry="2.8" fill="#3b528b"/>
<ellipse cx="564.2" cy="54.3" rx="6.1" ry="3.6" fill="#414487"/>
</g>
</g>
<rect x="439.40" y="16.90" width="251.10" height="112.20" fill="none" stroke="#8a8a8a" stroke-width="0.9"/>
<path d="M439.80 129.10v2M472.20 129.10v2M504.60 129.10v2M537.00 129.10v2M569.40 129.10v2M601.80 129.10v2M634.20 129.10v2M666.60 129.10v2M439.40 125.60h-2M439.40 112.65h-2M439.40 99.70h-2M439.40 86.75h-2M439.40 73.80h-2M439.40 60.85h-2M439.40 47.90h-2M439.40 34.95h-2M439.40 22.00h-2" stroke="#333" stroke-width="0.85" fill="none"/>
<g font-size="5.45" fill="#262626">
<text x="439.80" y="137.90" text-anchor="middle">518750</text>
<text x="472.20" y="137.90" text-anchor="middle">519000</text>
<text x="504.60" y="137.90" text-anchor="middle">519250</text>
<text x="537.00" y="137.90" text-anchor="middle">519500</text>
<text x="569.40" y="137.90" text-anchor="middle">519750</text>
<text x="601.80" y="137.90" text-anchor="middle">520000</text>
<text x="634.20" y="137.90" text-anchor="middle">520250</text>
<text x="666.60" y="137.90" text-anchor="middle">520500</text>
<text x="435.10" y="127.65" text-anchor="end">200</text>
<text x="435.10" y="114.70" text-anchor="end">300</text>
<text x="435.10" y="101.75" text-anchor="end">400</text>
<text x="435.10" y="88.80" text-anchor="end">500</text>
<text x="435.10" y="75.85" text-anchor="end">600</text>
<text x="435.10" y="62.90" text-anchor="end">700</text>
<text x="435.10" y="49.95" text-anchor="end">800</text>
<text x="435.10" y="37.00" text-anchor="end">900</text>
<text x="435.10" y="24.05" text-anchor="end">1000</text>
</g>
<text x="564.95" y="145.00" text-anchor="middle" font-size="5.40" fill="#262626">Northing</text>
<text transform="translate(418.40 73.60) rotate(-90)" text-anchor="middle" font-size="5.40" fill="#262626">Elevation</text>
<text x="564.95" y="13.50" text-anchor="middle" font-size="6.63" fill="#222">An Example Section(NS) - NHoles</text>
<text x="443.90" y="32.75" font-weight="bold" font-size="10.3" fill="#111" style="font-family:'DejaVu Sans Condensed','DejaVu Sans',sans-serif;font-stretch:condensed;stroke:none">E</text>
</g>
<g>
<path d="M472.20 159.60V271.90M504.60 159.60V271.90M537.00 159.60V271.90M569.40 159.60V271.90M601.80 159.60V271.90M634.20 159.60V271.90M666.60 159.60V271.90M439.40 268.12H690.50M439.40 255.18H690.50M439.40 242.24H690.50M439.40 229.30H690.50M439.40 216.36H690.50M439.40 203.42H690.50M439.40 190.48H690.50M439.40 177.54H690.50M439.40 164.60H690.50" stroke="#e4e4ea" stroke-width="0.7" fill="none"/>
<mask id="clF" maskUnits="userSpaceOnUse" x="439.4" y="159.6" width="251.1" height="112.3">
<g fill="#fff" stroke="#fff" stroke-width="1.00" stroke-linejoin="round">
<path d="M449.0 254.0L456.3 253.2L462.9 253.8L467.9 255.5L474.5 256.7L481.1 257.0L487.8 254.3L494.4 251.5L501.0 249.2L506.8 246.7L505.7 243.1L506.0 238.9L511.0 234.8L517.6 230.6L524.2 225.7L529.2 220.7L531.7 217.4L537.1 213.9L543.3 212.1L550.8 210.8L558.2 209.0L564.4 206.5L569.4 205.2L575.0 205.2L577.5 207.5L579.1 206.2L576.3 203.0L573.8 199.7L575.6 197.2L580.6 195.3L581.8 192.8L581.8 187.8L584.3 186.4L590.5 186.4L591.8 189.1L592.4 192.2L597.6 192.6L603.9 191.0L608.2 188.5L613.8 187.6L618.8 184.9L623.7 183.7L631.2 183.7L638.6 182.9L643.6 181.3L648.1 178.6L655.5 182.2L655.5 187.2L653.7 190.3L648.7 192.8L644.7 193.4L644.0 191.0L646.2 188.5L642.5 189.7L637.5 192.2L630.0 195.3L623.8 197.8L623.2 202.1L620.1 204.0L612.6 205.9L607.7 208.4L606.7 210.2L604.2 213.9L600.5 215.8L594.1 217.3L593.5 221.6L589.1 223.5L584.2 225.4L579.2 226.6L576.7 225.4L571.7 226.6L566.8 229.1L561.8 231.0L554.3 231.9L550.0 232.8L548.7 236.5L545.6 237.2L544.6 239.7L541.9 244.0L536.9 247.7L529.5 251.5L520.8 254.6L513.3 256.4L507.1 259.5L502.1 263.3L496.1 267.1L489.4 268.9L482.8 268.4L476.2 267.6L469.5 267.1L466.2 265.6L461.3 265.3L455.1 263.8L452.5 261.0L450.6 257.5Z"/>
<path d="M554.7 164.1L570.3 164.1L570.8 167.0L572.8 167.0L573.3 164.1L595.0 164.1L596.3 165.1L598.1 164.1L611.6 164.1L613.2 164.7L615.7 164.1L652.4 164.1L653.4 165.5L653.4 169.4L655.5 170.2L658.0 168.6L658.0 164.1L679.8 164.1L680.8 166.1L679.8 170.4L676.0 172.3L674.8 174.8L672.3 176.4L669.2 176.0L668.6 173.5L664.8 172.9L663.0 175.4L661.7 177.9L657.4 179.8L655.5 182.2L652.4 184.1L648.1 178.9L648.9 173.7L646.7 175.2L642.3 177.5L636.1 179.1L628.7 180.0L622.4 179.5L616.2 177.9L616.3 179.8L612.9 177.3L609.2 174.4L605.5 174.8L601.7 177.9L598.0 181.0L590.5 182.9L580.6 183.1L573.1 184.7L568.8 187.2L566.9 189.7L568.8 192.6L571.9 194.1L573.1 195.9L572.1 198.4L566.9 200.3L560.7 201.5L558.5 199.7L558.5 194.7L559.5 193.4L550.8 192.6L544.6 191.8L538.3 191.0L533.4 188.5L532.1 185.4L532.1 180.4L537.1 178.5L544.6 178.9L550.8 181.0L553.5 183.5L554.2 186.4L555.7 187.2L557.6 182.9L555.1 181.0L554.5 177.9L556.4 176.7L561.3 176.4L563.2 174.4L568.8 173.5L567.5 171.7L566.9 168.0L554.7 167.7Z"/>
<path d="M658.0 181.6L661.1 180.4L665.8 179.8L666.3 184.1L663.6 185.6L658.6 186.6L657.6 184.1Z"/>
<path d="M625.7 207.1L627.5 204.6L631.9 202.1L636.2 200.9L641.8 200.6L644.3 202.8L643.7 205.5L638.7 207.1L633.8 208.7L628.8 210.5L626.1 210.0Z"/>
<path d="M528.6 192.6L531.5 191.6L534.6 191.8L539.6 192.6L541.8 195.3L541.8 203.4L538.3 204.3L533.4 203.3L528.4 202.8L527.1 199.3L527.4 195.1Z"/>
<path d="M453.5 212.4L455.4 210.6L462.1 210.5L463.7 212.2L463.4 217.4L461.6 219.1L455.8 219.1L453.6 216.9Z"/>
</g></mask>
<g mask="url(#clF)">
<rect x="439.4" y="159.6" width="251.1" height="112.3" fill="#470565"/>
<g filter="url(#bl4)">
<polygon points="512.3,215.7 535.7,215.7 535.2,225.7 533.7,235.7 535.7,244.0 539.3,247.7 540.7,277.3 512.3,277.3" fill="#2fb47c"/>
<polygon points="439.0,245.7 521.0,245.7 521.0,277.3 439.0,277.3" fill="#fde725"/>
<polygon points="521.8,227.0 527.3,225.3 529.0,237.3 530.3,249.0 527.3,255.3 520.7,256.0 520.3,244.0 521.5,234.8" fill="#fde725"/>
<polygon points="482.0,258.2 487.3,254.8 496.2,252.0 497.0,256.5 492.7,260.0 484.0,261.2" fill="#2fb47c"/>
<polygon points="498.2,252.7 505.7,248.7 512.3,245.3 521.0,242.7 522.8,249.0 521.0,254.3 512.3,257.7 505.7,258.5 501.5,256.8" fill="#2fb47c"/>
<polygon points="504.0,229.0 514.8,229.0 517.0,237.3 515.3,244.3 509.8,244.3 509.8,240.3 504.8,240.3" fill="#470565"/>
<polygon points="505.0,240.3 509.7,240.3 510.0,245.0 505.7,246.0" fill="#31688e"/>
<ellipse cx="511.0" cy="252.3" rx="3.2" ry="2.2" fill="#31688e"/>
</g>
<rect x="449.0" y="206.7" width="20.0" height="16.7" fill="#2fb47c"/>
<rect x="524.0" y="191.7" width="7.3" height="15.0" fill="#2fb47c"/>
<rect x="529.0" y="176.7" width="9.3" height="9.3" fill="#2fb47c"/>
<rect x="624.0" y="200.0" width="7.7" height="13.3" fill="#2fb47c"/>
</g>
<rect x="439.40" y="159.60" width="251.10" height="112.30" fill="none" stroke="#8a8a8a" stroke-width="0.9"/>
<path d="M439.80 271.90v2M472.20 271.90v2M504.60 271.90v2M537.00 271.90v2M569.40 271.90v2M601.80 271.90v2M634.20 271.90v2M666.60 271.90v2M439.40 268.12h-2M439.40 255.18h-2M439.40 242.24h-2M439.40 229.30h-2M439.40 216.36h-2M439.40 203.42h-2M439.40 190.48h-2M439.40 177.54h-2M439.40 164.60h-2" stroke="#333" stroke-width="0.85" fill="none"/>
<g font-size="5.45" fill="#262626">
<text x="439.80" y="280.70" text-anchor="middle">518750</text>
<text x="472.20" y="280.70" text-anchor="middle">519000</text>
<text x="504.60" y="280.70" text-anchor="middle">519250</text>
<text x="537.00" y="280.70" text-anchor="middle">519500</text>
<text x="569.40" y="280.70" text-anchor="middle">519750</text>
<text x="601.80" y="280.70" text-anchor="middle">520000</text>
<text x="634.20" y="280.70" text-anchor="middle">520250</text>
<text x="666.60" y="280.70" text-anchor="middle">520500</text>
<text x="435.10" y="270.17" text-anchor="end">200</text>
<text x="435.10" y="257.23" text-anchor="end">300</text>
<text x="435.10" y="244.29" text-anchor="end">400</text>
<text x="435.10" y="231.35" text-anchor="end">500</text>
<text x="435.10" y="218.41" text-anchor="end">600</text>
<text x="435.10" y="205.47" text-anchor="end">700</text>
<text x="435.10" y="192.53" text-anchor="end">800</text>
<text x="435.10" y="179.59" text-anchor="end">900</text>
<text x="435.10" y="166.65" text-anchor="end">1000</text>
</g>
<text x="564.95" y="287.80" text-anchor="middle" font-size="5.40" fill="#262626">Northing</text>
<text transform="translate(418.40 216.35) rotate(-90)" text-anchor="middle" font-size="5.40" fill="#262626">Elevation</text>
<text x="564.95" y="156.20" text-anchor="middle" font-size="6.63" fill="#222">An Example Section(NS) - Pass</text>
<text x="443.30" y="173.60" font-weight="bold" font-size="10.3" fill="#111" style="font-family:'DejaVu Sans Condensed','DejaVu Sans',sans-serif;font-stretch:condensed;stroke:none">F</text>
</g>
<g>
<path d="M466.70 304.40V418.20M499.60 304.40V418.20M532.50 304.40V418.20M565.40 304.40V418.20M598.30 304.40V418.20M631.20 304.40V418.20M664.10 304.40V418.20M433.50 414.40H688.00M433.50 401.27H688.00M433.50 388.15H688.00M433.50 375.02H688.00M433.50 361.90H688.00M433.50 348.77H688.00M433.50 335.65H688.00M433.50 322.52H688.00M433.50 309.40H688.00" stroke="#efeff3" stroke-width="0.7" fill="none"/>
<mask id="clG" maskUnits="userSpaceOnUse" x="433.5" y="304.4" width="254.5" height="113.8">
<g fill="#fff" stroke="#fff" stroke-width="1.00" stroke-linejoin="round">
<path d="M443.1 400.1L450.5 399.2L457.3 399.9L462.3 401.6L469.0 402.8L475.8 403.1L482.5 400.4L489.2 397.6L496.0 395.2L501.9 392.7L500.7 389.0L501.0 384.8L506.1 380.6L512.8 376.4L519.5 371.3L524.6 366.3L527.1 362.9L532.6 359.5L538.9 357.6L546.5 356.3L554.1 354.4L560.4 351.9L565.4 350.6L571.1 350.6L573.6 352.9L575.3 351.6L572.4 348.4L569.8 345.0L571.7 342.4L576.8 340.5L578.0 338.0L578.0 333.0L580.6 331.5L586.9 331.5L588.1 334.2L588.8 337.4L594.1 337.8L600.4 336.1L604.8 333.6L610.5 332.7L615.5 329.9L620.5 328.8L628.1 328.8L635.7 327.9L640.7 326.3L645.3 323.6L652.8 327.3L652.8 332.3L651.0 335.5L645.9 338.0L641.9 338.6L641.1 336.1L643.4 333.6L639.6 334.9L634.5 337.4L627.0 340.5L620.7 343.1L620.0 347.5L616.9 349.4L609.3 351.3L604.2 353.8L603.3 355.7L600.8 359.5L597.0 361.3L590.5 362.8L589.9 367.2L585.5 369.1L580.4 371.0L575.4 372.3L572.8 371.0L567.8 372.3L562.7 374.8L557.7 376.7L550.1 377.7L545.7 378.6L544.4 382.4L541.3 383.0L540.3 385.5L537.5 389.9L532.4 393.7L524.9 397.5L516.0 400.7L508.4 402.6L502.1 405.7L497.1 409.5L490.9 413.4L484.2 415.2L477.5 414.7L470.7 413.9L464.0 413.4L460.6 411.9L455.6 411.5L449.4 410.0L446.7 407.1L444.8 403.6Z"/>
<path d="M550.5 308.9L566.3 308.9L566.8 311.8L568.8 311.8L569.3 308.9L591.4 308.9L592.7 309.9L594.6 308.9L608.2 308.9L609.9 309.5L612.4 308.9L649.7 308.9L650.7 310.3L650.7 314.3L652.8 315.1L655.4 313.4L655.4 308.9L677.5 308.9L678.5 310.9L677.5 315.3L673.7 317.2L672.4 319.7L669.9 321.4L666.7 321.0L666.1 318.5L662.3 317.8L660.4 320.4L659.2 322.9L654.7 324.8L652.8 327.3L649.7 329.2L645.3 323.9L646.2 318.6L643.9 320.1L639.5 322.5L633.2 324.1L625.6 325.0L619.3 324.5L613.0 322.9L613.0 324.8L609.6 322.3L605.8 319.4L602.0 319.7L598.2 322.9L594.4 326.0L586.9 327.9L576.8 328.2L569.2 329.8L564.8 332.3L562.9 334.9L564.8 337.8L567.9 339.3L569.2 341.2L568.2 343.7L562.9 345.6L556.6 346.8L554.3 345.0L554.3 339.9L555.3 338.6L546.5 337.8L540.2 337.0L533.9 336.1L528.8 333.6L527.5 330.5L527.5 325.4L532.6 323.5L540.2 323.9L546.5 326.0L549.3 328.6L550.0 331.5L551.5 332.3L553.4 327.9L550.9 326.0L550.3 322.9L552.2 321.6L557.2 321.4L559.1 319.4L564.8 318.5L563.5 316.6L562.9 312.8L550.5 312.5Z"/>
<path d="M655.4 326.7L658.5 325.4L663.3 324.8L663.8 329.2L661.1 330.7L656.0 331.7L655.0 329.2Z"/>
<path d="M622.6 352.5L624.4 350.0L628.9 347.5L633.3 346.2L639.0 346.0L641.5 348.1L640.9 350.9L635.8 352.5L630.8 354.2L625.7 355.9L622.9 355.4Z"/>
<path d="M524.0 337.8L526.9 336.8L530.1 337.0L535.1 337.8L537.4 340.5L537.4 348.7L533.9 349.6L528.8 348.6L523.8 348.1L522.5 344.6L522.7 340.3Z"/>
<path d="M447.8 357.9L449.7 356.0L456.4 356.0L458.0 357.7L457.8 362.9L455.9 364.7L450.0 364.7L447.8 362.4Z"/>
</g></mask>
<g mask="url(#clG)">
<rect x="433.5" y="304.4" width="254.5" height="113.8" fill="#3f7fbc"/>
<polygon points="433.0,350.7 530.3,350.7 530.0,385.0 543.0,389.3 546.3,420.0 433.0,420.0" fill="#d94f4c"/>
<polygon points="439.7,347.3 466.3,347.3 466.3,370.7 439.7,370.7" fill="#d94f4c"/>
<polygon points="518.0,334.0 527.3,334.0 527.3,350.7 518.0,350.7" fill="#d94f4c"/>
<polygon points="523.0,320.7 537.0,320.7 539.0,329.0 536.3,337.3 523.0,337.3" fill="#d94f4c"/>
<polygon points="619.7,348.0 630.3,345.7 627.7,359.0 619.7,359.0" fill="#d94f4c"/>
<polygon points="639.0,337.7 649.7,333.3 651.3,336.0 639.7,340.7" fill="#d94f4c"/>
</g>
<rect x="433.50" y="304.40" width="254.50" height="113.80" fill="none" stroke="#7a7a7a" stroke-width="0.9"/>
<path d="M433.80 418.20v2M466.70 418.20v2M499.60 418.20v2M532.50 418.20v2M565.40 418.20v2M598.30 418.20v2M631.20 418.20v2M664.10 418.20v2M433.50 414.40h-2M433.50 401.27h-2M433.50 388.15h-2M433.50 375.02h-2M433.50 361.90h-2M433.50 348.77h-2M433.50 335.65h-2M433.50 322.52h-2M433.50 309.40h-2" stroke="#333" stroke-width="0.85" fill="none"/>
<g font-size="5.45" fill="#262626">
<text x="433.80" y="427.00" text-anchor="middle">518750</text>
<text x="466.70" y="427.00" text-anchor="middle">519000</text>
<text x="499.60" y="427.00" text-anchor="middle">519250</text>
<text x="532.50" y="427.00" text-anchor="middle">519500</text>
<text x="565.40" y="427.00" text-anchor="middle">519750</text>
<text x="598.30" y="427.00" text-anchor="middle">520000</text>
<text x="631.20" y="427.00" text-anchor="middle">520250</text>
<text x="664.10" y="427.00" text-anchor="middle">520500</text>
<text x="429.20" y="416.45" text-anchor="end">200</text>
<text x="429.20" y="403.32" text-anchor="end">300</text>
<text x="429.20" y="390.20" text-anchor="end">400</text>
<text x="429.20" y="377.07" text-anchor="end">500</text>
<text x="429.20" y="363.95" text-anchor="end">600</text>
<text x="429.20" y="350.82" text-anchor="end">700</text>
<text x="429.20" y="337.70" text-anchor="end">800</text>
<text x="429.20" y="324.57" text-anchor="end">900</text>
<text x="429.20" y="311.45" text-anchor="end">1000</text>
</g>
<text x="560.75" y="434.10" text-anchor="middle" font-size="5.40" fill="#262626">Northing</text>
<text transform="translate(412.50 361.90) rotate(-90)" text-anchor="middle" font-size="5.40" fill="#262626">Elevation</text>
<text x="560.75" y="301.00" text-anchor="middle" font-size="6.63" fill="#222">An Example Section(NS) - ML_Init_Class</text>
<text x="444.20" y="319.00" font-weight="bold" font-size="10.3" fill="#111" style="font-family:'DejaVu Sans Condensed','DejaVu Sans',sans-serif;font-stretch:condensed;stroke:none">G</text>
</g>
<g>
<path d="M470.10 449.40V562.30M502.80 449.40V562.30M535.50 449.40V562.30M568.20 449.40V562.30M600.90 449.40V562.30M633.60 449.40V562.30M666.30 449.40V562.30M437.10 558.88H690.25M437.10 545.82H690.25M437.10 532.76H690.25M437.10 519.70H690.25M437.10 506.64H690.25M437.10 493.58H690.25M437.10 480.52H690.25M437.10 467.46H690.25M437.10 454.40H690.25" stroke="#efeff3" stroke-width="0.7" fill="none"/>
<mask id="clH" maskUnits="userSpaceOnUse" x="437.1" y="449.4" width="253.1" height="112.9">
<g fill="#fff" stroke="#fff" stroke-width="1.00" stroke-linejoin="round">
<path d="M446.7 544.6L454.0 543.8L460.7 544.5L465.7 546.1L472.4 547.3L479.1 547.7L485.8 545.0L492.5 542.1L499.2 539.8L505.1 537.3L503.9 533.6L504.2 529.4L509.2 525.2L515.9 521.0L522.6 516.0L527.6 511.0L530.2 507.7L535.6 504.2L541.9 502.3L549.4 501.1L556.9 499.2L563.2 496.7L568.2 495.4L573.9 495.4L576.4 497.7L578.0 496.4L575.1 493.2L572.6 489.8L574.5 487.3L579.5 485.4L580.8 482.9L580.8 477.9L583.3 476.4L589.5 476.4L590.8 479.1L591.4 482.2L596.7 482.6L603.0 481.0L607.4 478.5L613.0 477.6L618.0 474.8L623.0 473.7L630.5 473.7L638.1 472.8L643.1 471.2L647.6 468.6L655.1 472.2L655.1 477.2L653.2 480.4L648.2 482.9L644.2 483.5L643.4 481.0L645.7 478.5L641.9 479.7L636.9 482.2L629.4 485.4L623.1 487.9L622.5 492.3L619.4 494.2L611.8 496.1L606.8 498.6L605.9 500.4L603.3 504.2L599.6 506.1L593.1 507.6L592.5 512.0L588.1 513.8L583.1 515.7L578.1 517.0L575.6 515.7L570.6 517.0L565.5 519.5L560.5 521.4L553.0 522.4L548.6 523.2L547.4 527.0L544.2 527.6L543.2 530.2L540.5 534.5L535.4 538.3L527.9 542.1L519.1 545.2L511.6 547.1L505.3 550.2L500.3 554.0L494.2 557.9L487.5 559.7L480.8 559.2L474.1 558.4L467.4 557.9L464.1 556.4L459.1 556.0L452.9 554.5L450.2 551.7L448.3 548.2Z"/>
<path d="M553.4 453.9L569.1 453.9L569.6 456.8L571.6 456.8L572.1 453.9L594.1 453.9L595.3 454.9L597.2 453.9L610.7 453.9L612.4 454.5L614.9 453.9L652.0 453.9L653.0 455.3L653.0 459.3L655.1 460.0L657.6 458.4L657.6 453.9L679.6 453.9L680.6 455.9L679.6 460.3L675.8 462.2L674.6 464.7L672.1 466.3L668.9 465.9L668.3 463.4L664.5 462.8L662.6 465.3L661.4 467.8L657.0 469.7L655.1 472.2L652.0 474.1L647.6 468.8L648.5 463.6L646.2 465.1L641.8 467.4L635.5 469.1L628.0 470.0L621.7 469.5L615.5 467.8L615.5 469.7L612.1 467.2L608.4 464.3L604.6 464.7L600.8 467.8L597.1 471.0L589.5 472.8L579.5 473.1L572.0 474.7L567.6 477.2L565.7 479.7L567.6 482.6L570.7 484.1L572.0 486.0L571.0 488.5L565.7 490.4L559.4 491.7L557.2 489.8L557.2 484.8L558.2 483.5L549.4 482.6L543.1 481.9L536.8 481.0L531.8 478.5L530.6 475.3L530.6 470.3L535.6 468.4L543.1 468.8L549.4 471.0L552.2 473.5L552.9 476.4L554.4 477.2L556.3 472.8L553.8 471.0L553.2 467.8L555.0 466.6L560.1 466.3L561.9 464.3L567.6 463.4L566.3 461.5L565.7 457.8L553.4 457.5Z"/>
<path d="M657.6 471.6L660.8 470.3L665.5 469.7L666.0 474.1L663.3 475.6L658.3 476.6L657.2 474.1Z"/>
<path d="M625.0 497.3L626.9 494.8L631.3 492.3L635.7 491.0L641.3 490.8L643.8 492.9L643.2 495.7L638.2 497.3L633.2 498.9L628.1 500.7L625.4 500.2Z"/>
<path d="M527.1 482.6L529.9 481.6L533.1 481.9L538.1 482.6L540.4 485.4L540.4 493.5L536.8 494.4L531.8 493.4L526.8 492.9L525.6 489.4L525.8 485.1Z"/>
<path d="M451.3 502.6L453.2 500.8L459.9 500.7L461.5 502.5L461.2 507.7L459.4 509.4L453.5 509.4L451.4 507.2Z"/>
</g></mask>
<g mask="url(#clH)">
<rect x="437.1" y="449.4" width="253.1" height="112.9" fill="#3f7fbc"/>
<polygon points="528.8,489.4 529.8,507.6 531.7,512.6 534.2,518.9 537.9,525.1 541.7,528.3 543.2,530.2 547.2,562.3 437.1,562.3 437.1,489.4" fill="#d94f4c"/>
<polygon points="443.7,492.3 470.3,492.3 470.3,515.7 443.7,515.7" fill="#d94f4c"/>
<polygon points="522.0,475.7 532.0,475.7 532.0,495.7 522.0,495.7" fill="#d94f4c"/>
<polygon points="623.7,498.0 628.7,499.3 637.0,496.3 638.0,499.0 627.0,504.3 623.0,504.3" fill="#d94f4c"/>
</g>
<rect x="437.10" y="449.40" width="253.15" height="112.90" fill="none" stroke="#7a7a7a" stroke-width="0.9"/>
<path d="M437.40 562.30v2M470.10 562.30v2M502.80 562.30v2M535.50 562.30v2M568.20 562.30v2M600.90 562.30v2M633.60 562.30v2M666.30 562.30v2M437.10 558.88h-2M437.10 545.82h-2M437.10 532.76h-2M437.10 519.70h-2M437.10 506.64h-2M437.10 493.58h-2M437.10 480.52h-2M437.10 467.46h-2M437.10 454.40h-2" stroke="#333" stroke-width="0.85" fill="none"/>
<g font-size="5.45" fill="#262626">
<text x="437.40" y="571.10" text-anchor="middle">518750</text>
<text x="470.10" y="571.10" text-anchor="middle">519000</text>
<text x="502.80" y="571.10" text-anchor="middle">519250</text>
<text x="535.50" y="571.10" text-anchor="middle">519500</text>
<text x="568.20" y="571.10" text-anchor="middle">519750</text>
<text x="600.90" y="571.10" text-anchor="middle">520000</text>
<text x="633.60" y="571.10" text-anchor="middle">520250</text>
<text x="666.30" y="571.10" text-anchor="middle">520500</text>
<text x="432.80" y="560.93" text-anchor="end">200</text>
<text x="432.80" y="547.87" text-anchor="end">300</text>
<text x="432.80" y="534.81" text-anchor="end">400</text>
<text x="432.80" y="521.75" text-anchor="end">500</text>
<text x="432.80" y="508.69" text-anchor="end">600</text>
<text x="432.80" y="495.63" text-anchor="end">700</text>
<text x="432.80" y="482.57" text-anchor="end">800</text>
<text x="432.80" y="469.51" text-anchor="end">900</text>
<text x="432.80" y="456.45" text-anchor="end">1000</text>
</g>
<text x="563.67" y="578.20" text-anchor="middle" font-size="5.40" fill="#262626">Northing</text>
<text transform="translate(416.10 506.45) rotate(-90)" text-anchor="middle" font-size="5.40" fill="#262626">Elevation</text>
<text x="563.67" y="446.00" text-anchor="middle" font-size="6.63" fill="#222">An Example Section(NS) - ML_Class</text>
<text x="443.90" y="461.00" font-weight="bold" font-size="10.3" fill="#111" style="font-family:'DejaVu Sans Condensed','DejaVu Sans',sans-serif;font-stretch:condensed;stroke:none">H</text>
</g>
<rect x="312.00" y="13.80" width="6.30" height="122.50" fill="url(#vir)" opacity="0.82"/>
<rect x="312.00" y="13.80" width="6.30" height="122.50" fill="none" stroke="#777" stroke-width="0.6"/>
<g font-size="5.5" fill="#262626">
<text x="322.50" y="16.25">0.8</text>
<text x="322.50" y="33.70">0.7</text>
<text x="322.50" y="51.15">0.6</text>
<text x="322.50" y="68.60">0.5</text>
<text x="322.50" y="86.05">0.4</text>
<text x="322.50" y="103.50">0.3</text>
<text x="322.50" y="120.95">0.2</text>
</g>
<path d="M318.30 14.25h2M318.30 31.70h2M318.30 49.15h2M318.30 66.60h2M318.30 84.05h2M318.30 101.50h2M318.30 118.95h2" stroke="#333" stroke-width="0.85" fill="none"/>
<text transform="translate(338.90 74.50) rotate(90)" text-anchor="middle" font-size="5.5" fill="#262626">EstimationVariance</text>
<rect x="312.00" y="156.30" width="6.50" height="122.50" fill="url(#vir)" opacity="0.82"/>
<rect x="312.00" y="156.30" width="6.50" height="122.50" fill="none" stroke="#777" stroke-width="0.6"/>
<g font-size="5.5" fill="#262626">
<text x="322.70" y="169.00">0.35</text>
<text x="322.70" y="187.54">0.30</text>
<text x="322.70" y="206.08">0.25</text>
<text x="322.70" y="224.62">0.20</text>
<text x="322.70" y="243.16">0.15</text>
<text x="322.70" y="261.70">0.10</text>
<text x="322.70" y="280.24">0.05</text>
</g>
<path d="M318.50 167.00h2M318.50 185.54h2M318.50 204.08h2M318.50 222.62h2M318.50 241.16h2M318.50 259.70h2M318.50 278.24h2" stroke="#333" stroke-width="0.85" fill="none"/>
<text transform="translate(343.20 218.00) rotate(90)" text-anchor="middle" font-size="5.5" fill="#262626">Local_bcov</text>
<rect x="311.30" y="301.50" width="6.50" height="122.30" fill="url(#vir)" opacity="0.82"/>
<rect x="311.30" y="301.50" width="6.50" height="122.30" fill="none" stroke="#777" stroke-width="0.6"/>
<g font-size="5.5" fill="#262626">
<text x="322.00" y="304.00">16</text>
<text x="322.00" y="320.25">14</text>
<text x="322.00" y="336.50">12</text>
<text x="322.00" y="352.75">10</text>
<text x="322.00" y="369.00">8</text>
<text x="322.00" y="385.25">6</text>
<text x="322.00" y="401.50">4</text>
<text x="322.00" y="417.75">2</text>
</g>
<path d="M317.80 302.00h2M317.80 318.25h2M317.80 334.50h2M317.80 350.75h2M317.80 367.00h2M317.80 383.25h2M317.80 399.50h2M317.80 415.75h2" stroke="#333" stroke-width="0.85" fill="none"/>
<text transform="translate(336.50 362.50) rotate(90)" text-anchor="middle" font-size="5.5" fill="#262626">NData</text>
<rect x="314.10" y="450.00" width="6.60" height="124.10" fill="url(#vir)" opacity="0.82"/>
<rect x="314.10" y="450.00" width="6.60" height="124.10" fill="none" stroke="#777" stroke-width="0.6"/>
<g font-size="5.5" fill="#262626">
<text x="324.90" y="455.00">160</text>
<text x="324.90" y="472.33">140</text>
<text x="324.90" y="489.66">120</text>
<text x="324.90" y="506.99">100</text>
<text x="324.90" y="524.32">80</text>
<text x="324.90" y="541.65">60</text>
<text x="324.90" y="558.98">40</text>
</g>
<path d="M320.70 453.00h2M320.70 470.33h2M320.70 487.66h2M320.70 504.99h2M320.70 522.32h2M320.70 539.65h2M320.70 556.98h2" stroke="#333" stroke-width="0.85" fill="none"/>
<text transform="translate(343.00 512.50) rotate(90)" text-anchor="middle" font-size="5.5" fill="#262626">AvgDist</text>
<rect x="705.50" y="12.00" width="6.80" height="121.20" fill="url(#vir)" opacity="0.82"/>
<rect x="705.50" y="12.00" width="6.80" height="121.20" fill="none" stroke="#777" stroke-width="0.6"/>
<g font-size="5.5" fill="#262626">
<text x="716.50" y="14.50">12</text>
<text x="716.50" y="36.50">10</text>
<text x="716.50" y="58.50">8</text>
<text x="716.50" y="80.50">6</text>
<text x="716.50" y="102.50">4</text>
<text x="716.50" y="124.50">2</text>
</g>
<path d="M712.30 12.50h2M712.30 34.50h2M712.30 56.50h2M712.30 78.50h2M712.30 100.50h2M712.30 122.50h2" stroke="#333" stroke-width="0.85" fill="none"/>
<text transform="translate(729.50 72.50) rotate(90)" text-anchor="middle" font-size="5.5" fill="#262626">NHoles</text>
<rect x="705.30" y="155.00" width="6.90" height="30.50" fill="#fde725" opacity="0.8"/>
<rect x="705.30" y="185.50" width="6.90" height="30.25" fill="#35b779" opacity="0.8"/>
<rect x="705.30" y="215.75" width="6.90" height="29.75" fill="#31688e" opacity="0.8"/>
<rect x="705.30" y="245.50" width="6.90" height="30.00" fill="#440154" opacity="0.8"/>
<rect x="705.30" y="155.00" width="6.90" height="120.50" fill="none" stroke="#777" stroke-width="0.6"/>
<g font-size="5.5" fill="#262626">
<path d="M712.20 170.00h2" stroke="#333" stroke-width="0.6"/>
<text x="716.40" y="172.00">4</text>
<path d="M712.20 200.50h2" stroke="#333" stroke-width="0.6"/>
<text x="716.40" y="202.50">3</text>
<path d="M712.20 230.50h2" stroke="#333" stroke-width="0.6"/>
<text x="716.40" y="232.50">2</text>
<path d="M712.20 260.50h2" stroke="#333" stroke-width="0.6"/>
<text x="716.40" y="262.50">1</text>
</g>
<text transform="translate(726.2 215) rotate(90)" text-anchor="middle" font-size="5.5" fill="#262626">Pass</text>
<rect x="704.00" y="295.00" width="7.90" height="66.60" fill="#4f87bc"/>
<rect x="704.00" y="361.60" width="7.90" height="65.20" fill="#d8666a"/>
<rect x="704.00" y="295.00" width="7.90" height="131.80" fill="none" stroke="#777" stroke-width="0.6"/>
<g font-size="5.5" fill="#262626">
<path d="M711.90 328.75h2" stroke="#333" stroke-width="0.6"/>
<text x="716.10" y="330.75">Indicated</text>
<path d="M711.90 394.00h2" stroke="#333" stroke-width="0.6"/>
<text x="716.10" y="396.00">Inferred</text>
</g>
<rect x="705.30" y="440.50" width="7.60" height="65.20" fill="#4f87bc"/>
<rect x="705.30" y="505.70" width="7.60" height="65.10" fill="#d8666a"/>
<rect x="705.30" y="440.50" width="7.60" height="130.30" fill="none" stroke="#777" stroke-width="0.6"/>
<g font-size="5.5" fill="#262626">
<path d="M712.90 473.25h2" stroke="#333" stroke-width="0.6"/>
<text x="716.30" y="475.25">Indicatedl</text>
<path d="M712.90 538.25h2" stroke="#333" stroke-width="0.6"/>
<text x="716.30" y="540.25">Inferred</text>
</g>
</svg></body></html>
